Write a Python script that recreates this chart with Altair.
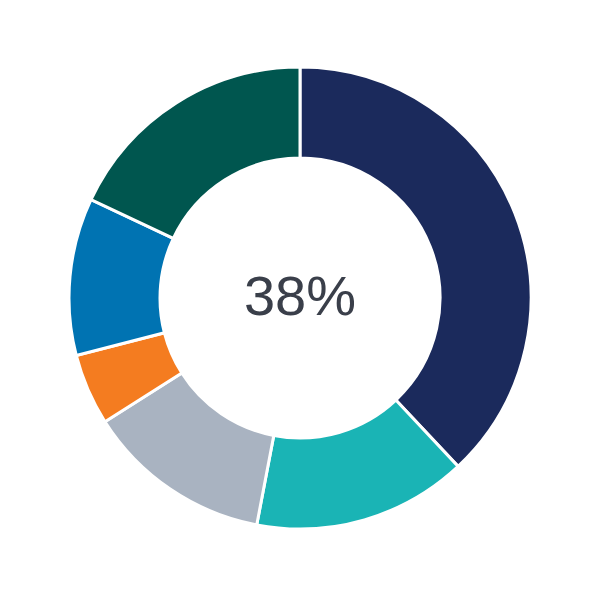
import pandas as pd
import altair as alt

segments = ["A", "B", "C", "D", "E", "F"]
shares = [38, 15, 13, 5, 11, 18]
colors = ["#1b2a5c", "#1ab4b5", "#a9b3c1", "#f47c20", "#0073b2", "#00564f"]
center_label = "38%"

df = pd.DataFrame({"segment": segments, "share": shares, "order": range(len(segments))})

ring = alt.Chart(df).mark_arc(
    innerRadius=140, outerRadius=231, stroke="white", strokeWidth=3
).encode(
    theta=alt.Theta("share:Q", stack=True),
    order=alt.Order("order:Q"),
    color=alt.Color("segment:N", scale=alt.Scale(domain=segments, range=colors), legend=None),
)

label = alt.Chart(pd.DataFrame({"t": [center_label]})).mark_text(
    font="Liberation Sans", fontSize=56, color="#3a3f4a", baseline="middle", align="center"
).encode(text="t:N")

chart = (ring + label).properties(
    width=584, height=580,
    autosize=alt.AutoSizeParams(type="fit", contains="padding"),
).configure_view(strokeWidth=0)

chart.save("out.html", embed_options={"renderer": "svg", "actions": False})
